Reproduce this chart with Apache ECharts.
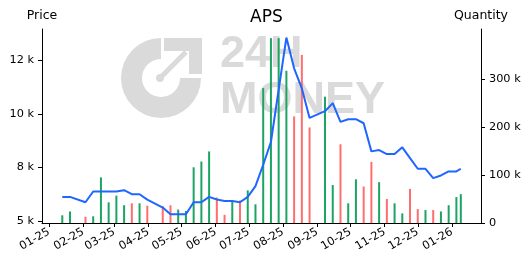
<!DOCTYPE html>
<html>
<head>
<meta charset="utf-8">
<title>APS</title>
<script src="https://cdn.jsdelivr.net/npm/echarts@6/dist/echarts.min.js"></script>
<style>
    html, body { margin: 0; padding: 0; background: #fff; }
    #main { width: 530px; height: 268px; }
</style>
</head>
<body>
<div id="main"></div>
<script>
// weekly points (Mondays), last one is the latest session
let weeks = [
    '2025-01-13', '2025-01-20', '2025-02-03', '2025-02-10', '2025-02-17', '2025-02-24',
    '2025-03-03', '2025-03-10', '2025-03-17', '2025-03-24', '2025-03-31', '2025-04-14',
    '2025-04-21', '2025-04-28', '2025-05-05', '2025-05-12', '2025-05-19', '2025-05-26',
    '2025-06-02', '2025-06-09', '2025-06-16', '2025-06-23', '2025-06-30', '2025-07-07',
    '2025-07-14', '2025-07-21', '2025-07-28', '2025-08-04', '2025-08-11', '2025-08-18',
    '2025-08-25', '2025-09-08', '2025-09-15', '2025-09-22', '2025-09-29', '2025-10-06',
    '2025-10-13', '2025-10-20', '2025-10-27', '2025-11-03', '2025-11-10', '2025-11-17',
    '2025-11-24', '2025-12-01', '2025-12-08', '2025-12-15', '2025-12-22', '2025-12-29',
    '2026-01-05', '2026-01-09'
];
let price = [
    6900, 6900, 6700, 7100, 7100, 7100,
    7100, 7150, 7000, 7000, 6800, 6500,
    6250, 6250, 6250, 6700, 6700, 6900,
    6800, 6750, 6750, 6700, 6900, 7300,
    8100, 8950, 10900, 12850, 11700, 10950,
    9850, 10100, 10400, 9700, 9800, 9800,
    9650, 8600, 8650, 8500, 8500, 8750,
    8350, 7950, 7950, 7600, 7700, 7850,
    7850, 7950
];
let volume = [
    16000, 24000, 13000, 14000, 95000, 43000,
    57000, 37000, 41000, 41000, 36000, 35000,
    37000, 28000, 25000, 116000, 128000, 149000,
    53000, 17000, 45000, 47000, 68000, 39000,
    281000, 385000, 385000, 317000, 222000, 350000,
    199000, 263000, 79000, 164000, 41000, 91000,
    76000, 127000, 85000, 50000, 41000, 20000,
    71000, 29000, 27000, 27000, 24000, 37000,
    54000, 60000
];
let monthTicks = [
    '2025-01-01', '2025-02-01', '2025-03-01', '2025-04-01', '2025-05-01', '2025-06-01', '2025-07-01',
    '2025-08-01', '2025-09-01', '2025-10-01', '2025-11-01', '2025-12-01', '2026-01-01'
];
let monthTickLabels = ['01-25', '02-25', '03-25', '04-25', '05-25', '06-25', '07-25', '08-25', '09-25', '10-25', '11-25', '12-25', '01-26'];
let priceTicks = [6000, 8000, 10000, 12000];
let priceTickLabels = ['5 k', '8 k', '10 k', '12 k'];
let volumeTicks = [0, 100000, 200000, 300000];
let volumeTickLabels = ['0', '100 k', '200 k', '300 k'];

function toTime(s) {
    let p = s.split('-');
    return new Date(+p[0], +p[1] - 1, +p[2]).getTime();
}

let weekTimes = weeks.map(toTime);
let monthTimes = monthTicks.map(toTime);
let priceData = weekTimes.map(function (t, i) { return [t, price[i]]; });
let volumeData = weekTimes.map(function (t, i) { return [t, volume[i]]; });

let up = '#1ca463';
let down = '#ff6e6e';
let mark = '#dadada';
let font = 'DejaVu Sans';

(function () {
    let myChart = echarts.init(document.getElementById('main'), null, { renderer: 'canvas' });
    let option = {
        animation: false,
        backgroundColor: '#fff',
        title: {
            text: 'APS',
            left: 245,
            top: 4,
            textStyle: { fontSize: 17, fontWeight: 'normal', color: '#000', fontFamily: font }
        },
        grid: { left: 42, right: 49, top: 29, bottom: 45 },
        // watermark
        graphic: [
            {
                type: 'sector', silent: true, z: 0,
                shape: { cx: 161, cy: 78, r0: 19, r: 40, startAngle: 0, endAngle: Math.PI * 1.5, clockwise: true },
                style: { fill: mark }
            },
            { type: 'rect', silent: true, z: 0, shape: { x: 164, y: 38, width: 38, height: 13 }, style: { fill: mark } },
            { type: 'rect', silent: true, z: 0, shape: { x: 189, y: 38, width: 13, height: 36 }, style: { fill: mark } },
            { type: 'line', silent: true, z: 0, shape: { x1: 160, y1: 78, x2: 186, y2: 52 }, style: { stroke: mark, lineWidth: 5 } },
            { type: 'circle', silent: true, z: 0, shape: { cx: 160, cy: 78, r: 4 }, style: { fill: mark } },
            {
                type: 'text', silent: true, z: 0, x: 220, y: 55,
                style: { text: '24H', fill: mark, font: 'bold 45px "Liberation Sans"', verticalAlign: 'middle' }
            },
            {
                type: 'text', silent: true, z: 0, x: 220, y: 101,
                style: { text: 'MONEY', fill: mark, font: 'bold 45px "Liberation Sans"', verticalAlign: 'middle' }
            }
        ],
        xAxis: {
            type: 'value',
            min: new Date(2024, 11, 25, 15).getTime(),
            max: new Date(2026, 0, 27, 7).getTime(),
            axisLine: { lineStyle: { color: '#000', width: 1 } },
            axisTick: { show: true, length: 4, lineStyle: { color: '#000' }, customValues: monthTimes },
            axisLabel: {
                customValues: monthTimes,
                rotate: 30,
                margin: 8,
                color: '#000',
                fontSize: 11.3,
                fontFamily: font,
                formatter: function (v) {
                    let i = monthTimes.indexOf(v);
                    return i >= 0 ? monthTickLabels[i] : '';
                }
            },
            splitLine: { show: false }
        },
        yAxis: [
            {
                type: 'value',
                name: 'Price',
                nameLocation: 'end',
                nameGap: 7,
                nameTextStyle: { color: '#000', fontSize: 12.5, fontFamily: font },
                min: 5925,
                max: 13169,
                axisLine: { show: true, lineStyle: { color: '#000', width: 1 } },
                axisTick: { show: true, length: 4, lineStyle: { color: '#000' }, customValues: priceTicks },
                axisLabel: {
                    customValues: priceTicks,
                    margin: 8,
                    color: '#000',
                    fontSize: 11.3,
                    fontFamily: font,
                    formatter: function (v) {
                        return priceTickLabels[priceTicks.indexOf(v)];
                    }
                },
                splitLine: { show: false }
            },
            {
                type: 'value',
                name: 'Quantity',
                nameLocation: 'end',
                nameGap: 7,
                nameTextStyle: { color: '#000', fontSize: 12.5, fontFamily: font },
                position: 'right',
                min: 0,
                max: 404000,
                axisLine: { show: true, lineStyle: { color: '#000', width: 1 } },
                axisTick: { show: true, length: 4, lineStyle: { color: '#000' }, customValues: volumeTicks },
                axisLabel: {
                    customValues: volumeTicks,
                    margin: 8,
                    color: '#000',
                    fontSize: 11.3,
                    fontFamily: font,
                    formatter: function (v) {
                        return volumeTickLabels[volumeTicks.indexOf(v)];
                    }
                },
                splitLine: { show: false }
            }
        ],
        series: [
            {
                name: 'Quantity',
                type: 'bar',
                yAxisIndex: 1,
                barWidth: 2,
                z: 2,
                itemStyle: {
                    color: function (p) {
                        let i = p.dataIndex;
                        return i > 0 && price[i] < price[i - 1] ? down : up;
                    }
                },
                data: volumeData
            },
            {
                name: 'Price',
                type: 'line',
                yAxisIndex: 0,
                z: 3,
                symbol: 'none',
                lineStyle: { color: '#1f66ff', width: 2 },
                data: priceData
            }
        ]
    };
    myChart.setOption(option);
    window.addEventListener('resize', function () {
        myChart.resize();
    })
})();
</script>
</body>
</html>
